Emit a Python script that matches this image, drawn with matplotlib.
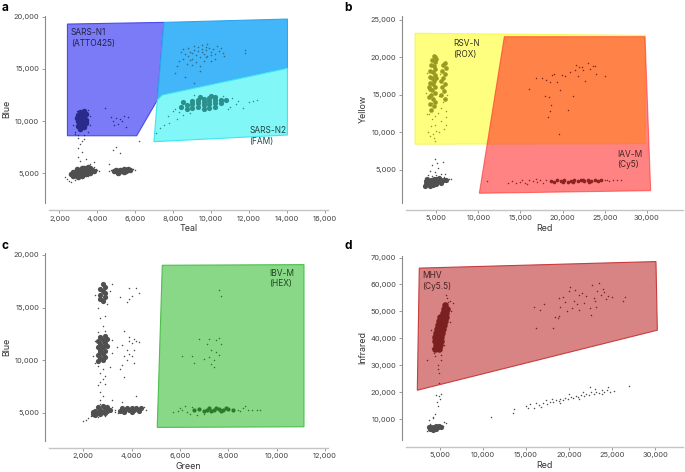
import numpy as np
import matplotlib.pyplot as plt
from matplotlib.patches import Polygon

plt.rcParams['font.family'] = ['Inter', 'DejaVu Sans']

# ---------------- panel a : Teal vs Blue ----------------
a_neg_core = [(2700, 4700), (2900, 4700), (3100, 4800), (3300, 4900), (3500, 5100), (3700, 5300),
              (2800, 4900), (3000, 5000), (3200, 5100), (3400, 5300), (3600, 5500), (2700, 5100),
              (2900, 5200), (3100, 5300), (3300, 5500), (3000, 4600), (3200, 4700), (3400, 4900),
              (3600, 5000), (3800, 5200), (2600, 4900), (2900, 5400), (3200, 5500), (3500, 5600),
              (3300, 5200), (3100, 5000),
              (4900, 5200), (5100, 5150), (5300, 5200), (5500, 5250), (5700, 5300), (5000, 5350),
              (5200, 5350), (5400, 5400), (5600, 5400), (5100, 5050), (5400, 5100)]
a_neg_sparse = [(2400, 4500), (2500, 4300), (2600, 4200), (3900, 5400), (4000, 5300), (2300, 4600),
                (3800, 5600), (2800, 4400), (3500, 4700), (4100, 5200), (4700, 5300), (4600, 5200),
                (5900, 5450), (6000, 5300), (5200, 4900), (5500, 5500), (3100, 6200), (3000, 6600),
                (3200, 7000), (3000, 7400), (3100, 7800), (3200, 8100), (3000, 8400), (3300, 8300),
                (3600, 5900), (3800, 6100), (4800, 7200), (5000, 7500), (5200, 6900), (6200, 8100),
                (4600, 5900), (3400, 6400)]
a_n1_core = [(3000, 10000), (3200, 10000), (3400, 10100), (3100, 10300), (3300, 10400), (3200, 10600),
             (3000, 10600), (3400, 10700), (3100, 10900), (3300, 11000), (2900, 10300), (3200, 9700),
             (3000, 9500), (3300, 9400), (3100, 9200), (3400, 9800)]
a_n1_sparse = [(2800, 9000), (3500, 9000), (3600, 9600), (2800, 8800), (3500, 11100), (2900, 11000),
               (3600, 10500), (3000, 8700), (3300, 8700), (2700, 9600), (4400, 11300), (4800, 10000),
               (5000, 10300), (5200, 10200), (5400, 10500), (5600, 10400), (5300, 10000), (5100, 9700),
               (4900, 9600), (5500, 9400), (4700, 10400)]
a_n2_core = [(8400, 11400), (8700, 11500), (9000, 11600), (9300, 11700), (9600, 11800), (9900, 11900),
             (10200, 12000), (10500, 12000), (10800, 12000), (8700, 11200), (9000, 11300), (9300, 11400),
             (9600, 11500), (9900, 11600), (10200, 11700), (10500, 11700), (9000, 11900), (9300, 12000),
             (9600, 12100), (9900, 12200), (10200, 12300), (9600, 11200), (9900, 11300), (10200, 11400),
             (8500, 11800), (10000, 12400), (9400, 12300)]
a_n2_sparse = [(8000, 11000), (7700, 10500), (8200, 10200), (7800, 9800), (7300, 9300), (7100, 8900),
               (8500, 10600), (8300, 10900), (11000, 11400), (11300, 11600), (11700, 11300), (12000, 11800),
               (12200, 11900), (12400, 12000), (11100, 12200), (10900, 11200), (8900, 10800), (7500, 9600),
               (11400, 11900), (9100, 12500), (10600, 12400), (8100, 11200)]
a_dual = [(8300, 15800), (8500, 16000), (8600, 16400), (8800, 16200), (8900, 16600), (9000, 16000),
          (9100, 16800), (9200, 16300), (9300, 16700), (9400, 16100), (9500, 16900), (9600, 16400),
          (9700, 16800), (9800, 16200), (9900, 17000), (10000, 16600), (10100, 16900), (10200, 16400),
          (10300, 17200), (10400, 16700), (10500, 17000), (10600, 16500), (8700, 15500), (9000, 15400),
          (9200, 15700), (9400, 15300), (9600, 15800), (9100, 17200), (9500, 17300), (9800, 17400),
          (8400, 16600), (8200, 15300), (8100, 14600), (8600, 14200), (9100, 13700), (9400, 14800),
          (10000, 15800), (10700, 16200), (11800, 16800), (11800, 16500), (8800, 17000), (9300, 17100),
          (9700, 16100), (10000, 16300), (9000, 16500), (9500, 16600), (8900, 15900), (10200, 16000),
          (8500, 16900), (9700, 17100)]
a_gate_n1 = [(2420, 19300), (7510, 19460), (7160, 12020), (6070, 8600), (2420, 8600)]
a_gate_dual = [(7510, 19460), (14020, 19780), (14020, 15060), (7420, 12500), (7160, 12020)]
a_gate_n2 = [(7420, 12500), (14020, 15060), (14020, 8670), (6980, 8030), (7160, 12020)]

# ---------------- panel b : Red vs Yellow ----------------
b_neg_core = [(3800, 3100), (4100, 3200), (4400, 3300), (4700, 3400), (5000, 3400), (5300, 3500),
              (5600, 3600), (5900, 3600), (6200, 3700), (3800, 3500), (4100, 3500), (4400, 3700),
              (4700, 3800), (5000, 3800), (5300, 3900), (4200, 2900), (4600, 3000), (5000, 3100),
              (5500, 3200), (3700, 2800), (3900, 3800)]
b_neg_sparse = [(3500, 2700), (3600, 3900), (6500, 3800), (6800, 3800), (4500, 4200), (5000, 4300),
                (4800, 4700), (5200, 5200), (4500, 5600), (4800, 6500), (5800, 6100), (4300, 4900),
                (5500, 4500), (5900, 4100), (4000, 4300), (5100, 5900), (6000, 4500)]
b_rsv_core = [(4700, 20200), (4900, 20000), (4500, 19600), (4800, 19400), (4400, 19000), (4700, 18800),
              (4900, 18500), (4300, 18200), (4600, 18000), (4800, 17700), (4200, 17400), (4500, 17200),
              (4700, 16900), (4300, 16600), (4600, 16400), (4900, 16100), (4200, 15800), (4500, 15600),
              (4800, 15300), (4400, 15000), (4100, 14700), (4600, 14400), (4900, 14100), (4300, 13800),
              (4700, 13500), (4400, 13000), (5000, 19800), (4100, 16000), (5000, 17200),
              (6000, 19300), (5800, 19000), (6100, 18600), (5700, 18200), (6000, 17800), (5800, 17300),
              (5600, 16900), (6000, 16500), (5700, 16000), (5900, 15500), (5600, 15000), (6000, 14500)]
b_rsv_sparse = [(4100, 12500), (4800, 12200), (4500, 11800), (5800, 14000), (5600, 13300), (6100, 12800),
                (4000, 10000), (4200, 9500), (4700, 9200), (4900, 8900), (5000, 10200), (4400, 10800),
                (5500, 11500), (6100, 11000), (6200, 12000), (3900, 12400), (4800, 11000), (5300, 10000),
                (5900, 10400), (4500, 13900), (5300, 14800), (5400, 17800), (3800, 15200), (3900, 17900),
                (5200, 12600), (6300, 15000), (4600, 9800)]
b_iav_core = [(18600, 3550), (19000, 3450), (19400, 3600), (19800, 3500), (20200, 3600), (20600, 3450),
              (21000, 3550), (21400, 3650), (21800, 3500), (22200, 3600), (22600, 3500), (23000, 3600),
              (23400, 3550), (23800, 3650), (24200, 3550), (24600, 3600), (20000, 3350), (21200, 3400),
              (22400, 3700), (23200, 3450)]
b_iav_sparse = [(11000, 3500), (13500, 3200), (14000, 3500), (15000, 3400), (15200, 3600), (15500, 3200),
                (16000, 3700), (16500, 3500), (17000, 3400), (17300, 3600), (17700, 3300), (18000, 3600),
                (16800, 3800), (15800, 3100), (26000, 3700), (26500, 3600), (27000, 3700), (25500, 3500),
                (25300, 3700), (14500, 3300), (25000, 3600)]
b_dual = [(16000, 15800), (16800, 17200), (17500, 17300), (18000, 17000), (18500, 16700), (18400, 14700),
          (18600, 13600), (18500, 12900), (18300, 12000), (19000, 17800), (19400, 16700), (19700, 15700),
          (19900, 17600), (19600, 9800), (20600, 13000), (20300, 17500), (21200, 14800), (21500, 18300),
          (21800, 17500), (22000, 18700), (22400, 18300), (22700, 16900), (23000, 19200), (23300, 18400),
          (23600, 18800), (23900, 18800), (24000, 17800), (25100, 17500), (20900, 18000), (21600, 19000),
          (22300, 18700), (17900, 14800), (18700, 17700)]
b_gate_rsv = [(2470, 23230), (29800, 22950), (29800, 8500), (2470, 8430)]
b_gate_iav = [(13080, 22770), (29800, 22770), (30470, 2240), (10110, 1890)]

# ---------------- panel c : Green vs Blue ----------------
c_neg_core = [(2400, 4900), (2600, 5000), (2800, 5100), (3000, 5200), (2500, 5200), (2700, 5300),
              (2900, 5400), (2600, 5500), (2800, 5600), (3000, 5500), (2400, 5100), (2700, 4900),
              (2900, 5000), (2500, 4800), (3100, 5300),
              (3500, 5200), (3700, 5200), (3900, 5300), (4100, 5300), (4300, 5300), (3600, 5400),
              (3800, 5450), (4000, 5450), (4200, 5450), (4400, 5400), (3700, 5100), (4000, 5100), (4300, 5150),
              (2600, 11200), (2800, 11200), (3000, 11300), (2700, 11500), (2900, 11600), (2600, 11800),
              (2800, 11900), (3000, 12000), (2700, 12200), (2900, 12300), (2700, 11000),
              (2600, 9900), (2800, 10000), (2700, 10200), (2900, 10300), (2600, 10500), (2800, 10600),
              (2700, 10800), (2900, 10900),
              (2700, 15800), (2900, 16000), (2700, 16200), (2900, 16400), (2800, 16600), (2700, 16800),
              (2900, 17000), (2800, 17200), (2800, 15600)]
c_neg_sparse = [(2000, 4200), (2100, 4300), (2200, 4500), (2300, 4700), (3200, 5500), (2700, 5800),
                (3300, 5100), (2600, 4600), (2900, 4700), (3300, 5300), (4600, 5300), (4500, 5500),
                (3450, 5000), (4200, 6600), (3600, 6000), (3200, 6200),
                (2600, 9400), (2800, 9200), (2700, 8800), (2900, 8500), (2800, 8200), (2700, 7900),
                (2600, 7600), (2900, 7700), (2700, 7000), (2800, 6600), (2700, 6200), (2600, 12700),
                (2900, 12800), (2800, 13200), (2700, 14000), (2900, 14200), (2600, 15000), (3000, 15300),
                (2500, 16200), (3100, 16600), (3200, 17200), (2400, 10400), (3200, 10700), (2500, 11800),
                (3200, 11900), (2500, 9700), (3100, 9300),
                (3400, 11200), (3600, 11400), (3800, 11000), (3900, 11800), (4000, 11600), (4100, 12000),
                (4200, 11800), (4300, 11700), (3700, 10400), (3800, 10000), (3900, 10600), (4000, 10400),
                (3600, 9500), (3500, 9200), (3700, 8400), (4100, 11000), (3900, 12200), (4300, 16400),
                (4200, 16900), (3900, 16900), (3800, 15500), (3500, 16000), (3900, 15800), (4000, 16100),
                (3700, 12800), (4100, 9700)]
c_ibv_core = [(6600, 5250), (6800, 5350), (7000, 5200), (7200, 5400), (7400, 5250), (7600, 5350),
              (7800, 5250), (8000, 5350), (8200, 5300), (7100, 5300), (7500, 5450), (7700, 5150),
              (7300, 5150), (7900, 5400)]
c_ibv_sparse = [(5700, 5100), (5900, 5200), (6000, 5400), (6100, 5300), (6300, 5100), (6400, 4900),
                (6500, 5500), (6700, 4800), (8400, 5300), (8600, 5400), (8800, 5300), (9000, 5300),
                (9200, 5300), (9300, 5250), (8500, 5150), (8700, 5600), (6200, 5600), (7000, 4900),
                (6100, 10400), (6500, 10400), (6600, 9700), (6800, 12000), (7000, 10100), (7100, 11500),
                (7200, 10300), (7300, 9600), (7400, 9300), (7500, 11900), (7500, 10800), (7600, 10500),
                (7600, 12100), (7700, 11500), (7200, 12000), (7600, 16700), (7700, 16100), (7300, 11000),
                (7400, 10000)]
c_gate_ibv = [(5270, 19020), (11130, 19080), (11130, 3660), (5060, 3600)]

# ---------------- panel d : Red vs Infrared ----------------
d_neg_core = [(3900, 6500), (4200, 6600), (4500, 6800), (4800, 7000), (5100, 7200), (4000, 7200),
              (4300, 7300), (4600, 7500), (4900, 7600), (4200, 6200), (4600, 6300), (3800, 7000)]
d_neg_sparse = [(3500, 5500), (3700, 6000), (5400, 7500), (5700, 8500), (3800, 9800), (4200, 10400),
                (4500, 12000), (4200, 11000), (4800, 15000), (4700, 16500), (5000, 17500), (4900, 18500),
                (5100, 19500), (4600, 19000), (5500, 9000), (3900, 8200),
                (11000, 11000), (13500, 12500), (13600, 13800), (15000, 14900), (15500, 15500),
                (15300, 14100), (16000, 14300), (16500, 15400), (16800, 14700), (17000, 16000),
                (17500, 15800), (17800, 16600), (18200, 16300), (18500, 17300), (18800, 16800),
                (19000, 17600), (19300, 17000), (19600, 18000), (19900, 17400), (20200, 18400),
                (20500, 17800), (20800, 18700), (21100, 18200), (21400, 19100), (21700, 18500),
                (22000, 19500), (22300, 18900), (22600, 20000), (22900, 19300), (23200, 20300),
                (23500, 19700), (23800, 20800), (24100, 20100), (24400, 21000), (24800, 20300),
                (25200, 20600), (27000, 22500), (22500, 21800), (21600, 20200), (20000, 19400),
                (19000, 16200), (18000, 17700), (23000, 21200), (24500, 22000), (16200, 16100),
                (17300, 17100), (21200, 17400), (23800, 19200)]
d_mhv_core = [(4500, 36000), (4900, 36000), (4600, 37500), (5000, 37500), (4700, 39000), (5100, 39000),
              (4400, 39000), (4800, 40500), (5200, 40500), (4500, 40500), (4900, 42000), (5300, 42000),
              (4600, 42000), (5000, 43500), (5400, 43500), (4700, 43500), (5100, 45000), (5500, 45000),
              (4800, 45000), (5200, 46500), (5600, 46500), (4900, 46500), (5300, 48000), (5700, 48000),
              (5000, 48000), (5400, 49500), (5700, 49500), (5500, 51000), (5800, 51000), (5600, 52500)]
d_mhv_sparse = [(4300, 34500), (4100, 36500), (4400, 33500), (5200, 34000), (5100, 32000), (4800, 30000),
                (3500, 32000), (4900, 27000), (4900, 23500), (4800, 28500), (6000, 53500), (5900, 55000),
                (6200, 54000), (5700, 56000), (6300, 50000), (6500, 53000), (4200, 40000), (6200, 46000),
                (4000, 43000), (5500, 37500),
                (16200, 44000), (16000, 51700), (16700, 50500), (17100, 52800), (18200, 44000),
                (18400, 48000), (18700, 47400), (18900, 48300), (18800, 55000), (19000, 51500),
                (19500, 53500), (19800, 50200), (20000, 57500), (20100, 59000), (20400, 51200),
                (20600, 54000), (20900, 52700), (21200, 50700), (21500, 56800), (21800, 53300),
                (22000, 55600), (22400, 51200), (22700, 59800), (22900, 55000), (23000, 53700),
                (23300, 57700), (23500, 60500), (23700, 56000), (24000, 58500), (24300, 54500),
                (24500, 55700), (25000, 55300), (26500, 55500), (26300, 54000), (22600, 48500),
                (23100, 51600), (24100, 57200), (21200, 56000), (20700, 58000), (19300, 55200)]
d_gate_mhv = [(2630, 66070), (30110, 68500), (30270, 43050), (2400, 20780)]

GREY = '#505050'


def dots(ax, pts, color, s):
    xy = np.array(pts, dtype=float)
    ax.scatter(xy[:, 0], xy[:, 1], s=s, c=color, linewidths=0, zorder=3)


def gate(ax, verts, face, edge, alpha=1.0):
    ax.add_patch(Polygon(verts, closed=True, facecolor=face, edgecolor=edge,
                         lw=0.8, alpha=alpha, zorder=1))


def style(ax, xlim, ylim, xticks, yticks, xlabel, ylabel, left_off=3, bottom_off=5):
    ax.set_xlim(*xlim)
    ax.set_ylim(*ylim)
    ax.set_xticks(xticks)
    ax.set_yticks(yticks)
    ax.set_xticklabels([f'{t:,}' for t in xticks])
    ax.set_yticklabels([f'{t:,}' for t in yticks])
    for s in ('top', 'right'):
        ax.spines[s].set_visible(False)
    ax.spines['left'].set_position(('outward', left_off))
    ax.spines['bottom'].set_position(('outward', bottom_off))
    ax.spines['left'].set_color('#8a8a8a')
    ax.spines['bottom'].set_color('#c4c4c4')
    ax.spines['left'].set_linewidth(0.8)
    ax.spines['bottom'].set_linewidth(1.0)
    ax.tick_params(axis='both', labelsize=5.4, colors='#8a8a8a', labelcolor='#444444',
                   length=2.5, width=0.6, pad=1.5)
    ax.set_xlabel(xlabel, fontsize=6.4, color='#333333', labelpad=2)
    ax.set_ylabel(ylabel, fontsize=6.4, color='#333333', labelpad=2)


fig = plt.figure(figsize=(6.85, 4.72), dpi=100)
ax_a = fig.add_axes([0.0715, 0.5699, 0.4073, 0.3968])
ax_b = fig.add_axes([0.5927, 0.5706, 0.4044, 0.3962])
ax_c = fig.add_axes([0.0715, 0.0657, 0.4073, 0.3990])
ax_d = fig.add_axes([0.5927, 0.0678, 0.4044, 0.3900])

# a
gate(ax_a, a_gate_n1, '#7b7bf7', '#4a4ae8')
gate(ax_a, a_gate_dual, '#42b6f9', '#2aa8f0')
gate(ax_a, a_gate_n2, '#82f7f7', '#3ee6f2')
dots(ax_a, a_neg_core, GREY, 16)
dots(ax_a, a_neg_sparse, GREY, 1.2)
dots(ax_a, a_n1_core, '#2a2a8c', 16)
dots(ax_a, a_n1_sparse, '#2a2a8c', 1.2)
dots(ax_a, a_n2_core, '#2b8f8c', 14)
dots(ax_a, a_n2_sparse, '#2b8f8c', 1.2)
dots(ax_a, a_dual, '#2f6f8c', 1.4)
ax_a.text(2600, 18900, 'SARS-N1\n(ATTO425)', fontsize=6, color='#222244', va='top', linespacing=1.25)
ax_a.text(12000, 9500, 'SARS-N2\n(FAM)', fontsize=6, color='#224444', va='top', linespacing=1.25)
style(ax_a, (1446, 16158), (2155, 20100), list(range(2000, 16001, 2000)),
      [5000, 10000, 15000, 20000], 'Teal', 'Blue', 3, 5)

# b
gate(ax_b, b_gate_rsv, '#ffff00', '#f0f000', 0.5)
gate(ax_b, b_gate_iav, '#ff1e1e', '#ff1e1e', 0.55)
dots(ax_b, b_neg_core, GREY, 14)
dots(ax_b, b_neg_sparse, GREY, 1.2)
dots(ax_b, b_rsv_core, '#9a9a22', 11)
dots(ax_b, b_rsv_sparse, '#9a9a22', 1.2)
dots(ax_b, b_iav_core, '#8c2222', 7)
dots(ax_b, b_iav_sparse, '#8c2222', 1.2)
dots(ax_b, b_dual, '#7a2a1a', 1.2)
ax_b.text(7000, 22400, 'RSV-N\n(ROX)', fontsize=6, color='#333322', va='top', linespacing=1.25)
ax_b.text(26500, 7700, 'IAV-M\n(Cy5)', fontsize=6, color='#442222', va='top', linespacing=1.25)
style(ax_b, (1400, 34313), (640, 25573), list(range(5000, 30001, 5000)),
      list(range(5000, 25001, 5000)), 'Red', 'Yellow', 3, 5)

# c
gate(ax_c, c_gate_ibv, '#88d888', '#4cbf4c')
dots(ax_c, c_neg_core, GREY, 14)
dots(ax_c, c_neg_sparse, GREY, 1.2)
dots(ax_c, c_ibv_core, '#2a7a2a', 9)
dots(ax_c, c_ibv_sparse, '#2a7a2a', 1.2)
ax_c.text(9700, 18700, 'IBV-M\n(HEX)', fontsize=6, color='#224422', va='top', linespacing=1.25)
style(ax_c, (581, 12124), (2307, 20219), list(range(2000, 12001, 2000)),
      [5000, 10000, 15000, 20000], 'Green', 'Blue', 3, 5)

# d
gate(ax_d, d_gate_mhv, '#d88484', '#c83c3c')
dots(ax_d, d_neg_core, GREY, 14)
dots(ax_d, d_neg_sparse, GREY, 1.2)
dots(ax_d, d_mhv_core, '#7a2020', 22)
dots(ax_d, d_mhv_sparse, '#7a2020', 1.2)
ax_d.text(3000, 65000, 'MHV\n(Cy5.5)', fontsize=6, color='#442222', va='top', linespacing=1.25)
style(ax_d, (1087, 33251), (2320, 70600), list(range(5000, 30001, 5000)),
      list(range(10000, 70001, 10000)), 'Red', 'Infrared', 3, 5)

for x, y, lab in [(0.002, 0.995, 'a'), (0.503, 0.995, 'b'), (0.002, 0.492, 'c'), (0.503, 0.492, 'd')]:
    fig.text(x, y, lab, fontsize=8.5, fontweight='bold', va='top', ha='left', color='black')

fig.savefig('out.png', dpi=100)
